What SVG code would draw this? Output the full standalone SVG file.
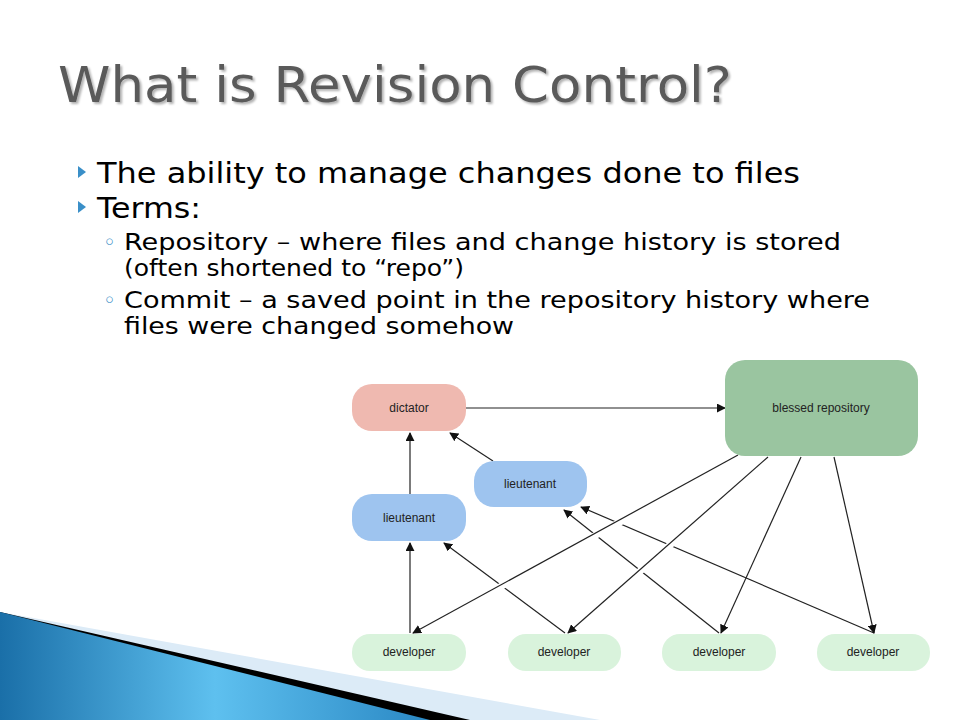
<svg xmlns="http://www.w3.org/2000/svg" width="960" height="720" viewBox="0 0 960 720">
<defs>
<style>
.t{font-family:"DejaVu Sans","Liberation Sans",sans-serif;fill:#000}
.n{font-family:"Liberation Sans",Arial,sans-serif;font-size:12px;fill:#222;text-anchor:middle}
.e{stroke:#222;stroke-width:1.2;fill:none;marker-end:url(#a)}
.h{stroke:#fff;stroke-width:7;fill:none}
</style>
<filter id="sh" x="-5%" y="-20%" width="110%" height="140%"><feDropShadow dx="2" dy="2" stdDeviation="1" flood-color="#000" flood-opacity="0.3"/></filter>
<marker id="a" viewBox="0 0 10 10" refX="9" refY="5" markerWidth="9" markerHeight="9" markerUnits="userSpaceOnUse" orient="auto"><path d="M0,0L10,5L0,10z" fill="#111"/></marker>
<linearGradient id="bg" x1="0" y1="0" x2="1" y2="0"><stop offset="0" stop-color="#1a6fa8"/><stop offset="0.5" stop-color="#5ec0ef"/><stop offset="1" stop-color="#2a88c4"/></linearGradient>
</defs>
<rect width="960" height="720" fill="#fff"/>
<g id="decor">
<polygon points="0,612 600,720 0,720" fill="#dcebf7"/>
<polygon points="0,612 470,720 0,720" fill="#000"/>
<polygon points="0,612 430,720 0,720" fill="url(#bg)"/>
</g>
<g id="title">
<text x="58" y="102" class="t" font-size="50" style="fill:#5a5a5a" filter="url(#sh)" textLength="674" lengthAdjust="spacingAndGlyphs">What is Revision Control?</text>
</g>
<g id="bullets">
<polygon points="78,166 78,178 86,172" fill="#3a8fc8"/>
<text x="97" y="183" class="t" font-size="29" textLength="703" lengthAdjust="spacingAndGlyphs">The ability to manage changes done to files</text>
<polygon points="78,201 78,213 86,207" fill="#3a8fc8"/>
<text x="97" y="218" class="t" font-size="29" textLength="104" lengthAdjust="spacingAndGlyphs">Terms:</text>
<text x="103" y="250" class="t" font-size="22" style="fill:#3a8fc8">◦</text>
<text x="124" y="250" class="t" font-size="23" textLength="717" lengthAdjust="spacingAndGlyphs">Repository – where files and change history is stored</text>
<text x="124" y="276" class="t" font-size="23" textLength="340" lengthAdjust="spacingAndGlyphs">(often shortened to “repo”)</text>
<text x="103" y="308" class="t" font-size="22" style="fill:#3a8fc8">◦</text>
<text x="124" y="308" class="t" font-size="23" textLength="746" lengthAdjust="spacingAndGlyphs">Commit – a saved point in the repository history where</text>
<text x="124" y="334" class="t" font-size="23" textLength="390" lengthAdjust="spacingAndGlyphs">files were changed somehow</text>
</g>
<g id="connectors">
<line class="e" x1="466" y1="408" x2="725" y2="408"/>
<line class="e" x1="410" y1="494" x2="410" y2="433"/>
<line class="e" x1="493" y1="461" x2="450" y2="433"/>
<line class="e" x1="410" y1="633" x2="410" y2="543"/>
<line class="e" x1="565" y1="633" x2="444" y2="543"/>
<line class="e" x1="719" y1="633" x2="564" y2="510"/>
<line class="e" x1="874" y1="633" x2="581" y2="507"/>
<line class="h" x1="735" y1="460" x2="420" y2="630"/>
<line class="h" x1="765" y1="462" x2="575" y2="628"/>
<line class="e" x1="738" y1="455" x2="413" y2="633"/>
<line class="e" x1="768" y1="457" x2="568" y2="633"/>
<line class="e" x1="801" y1="457" x2="721" y2="633"/>
<line class="e" x1="834" y1="457" x2="874" y2="633"/>
</g>
<g id="blessed"><rect x="725" y="360" width="193" height="96" rx="20" fill="#9ac5a0"/><text x="821" y="412" class="n">blessed repository</text></g>
<g id="dictator"><rect x="352" y="384" width="114" height="47" rx="20" fill="#efb9b0"/><text x="409" y="412" class="n">dictator</text></g>
<g id="lieut1"><rect x="352" y="494" width="114" height="47" rx="20" fill="#9ec4ef"/><text x="409" y="522" class="n">lieutenant</text></g>
<g id="lieut2"><rect x="474" y="461" width="113" height="46" rx="20" fill="#9ec4ef"/><text x="530" y="488" class="n">lieutenant</text></g>
<g id="dev1"><rect x="352" y="634" width="114" height="37" rx="18" fill="#d9f3dc"/><text x="409" y="656" class="n">developer</text></g>
<g id="dev2"><rect x="508" y="634" width="113" height="37" rx="18" fill="#d9f3dc"/><text x="564" y="656" class="n">developer</text></g>
<g id="dev3"><rect x="662" y="634" width="114" height="37" rx="18" fill="#d9f3dc"/><text x="719" y="656" class="n">developer</text></g>
<g id="dev4"><rect x="817" y="634" width="113" height="37" rx="18" fill="#d9f3dc"/><text x="873" y="656" class="n">developer</text></g>
</svg>
